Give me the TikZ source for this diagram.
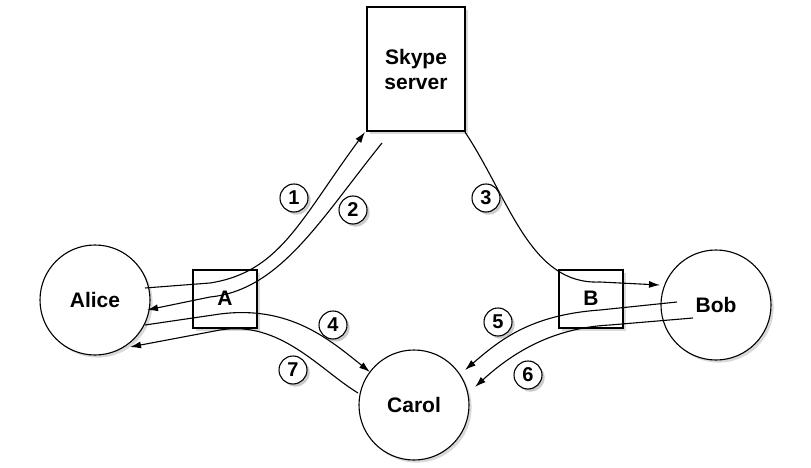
\documentclass[tikz,border=0pt]{standalone}
\usepackage{fontspec}
\setmainfont{Liberation Sans}
\usetikzlibrary{arrows.meta,shadows}
\begin{document}
\begin{tikzpicture}[x=1pt,y=-1pt,
  txt/.style={font=\bfseries\fontsize{21}{25}\selectfont},
  peer/.style={circle,draw,line width=1.1pt,minimum size=110pt,fill=white,drop shadow={opacity=0.3},txt},
  relay/.style={rectangle,draw,line width=1.1pt,minimum width=64pt,minimum height=58pt,fill=white,drop shadow={opacity=0.3},txt},
  num/.style={circle,draw,line width=1.1pt,fill=white,minimum size=28pt,inner sep=0pt,drop shadow={opacity=0.4},font=\bfseries\fontsize{20}{22}\selectfont},
  flow/.style={line width=1.1pt,-{Latex[length=11pt,width=7pt]}}]
\useasboundingbox (0,0) rectangle (811,468);
\node[relay,minimum width=98pt,minimum height=124pt,align=center] (S) at (416,69) {Skype\\server};
\node[peer] (alice) at (95,300) {Alice};
\node[peer] (bob) at (716,305) {Bob};
\node[peer] (carol) at (414,405) {Carol};
\node[relay] (A) at (225,299) {};
\node[relay] (B) at (591,299) {};
\coordinate (a1) at (145,288);
\coordinate (s1) at (365,132);
\coordinate (s2) at (382,143);
\coordinate (a2) at (147,310);
\coordinate (a4) at (145,325);
\coordinate (c4) at (370,372);
\coordinate (c7) at (358,393);
\coordinate (a7) at (130,347);
\coordinate (s3) at (465,132);
\coordinate (b3) at (660,285);
\coordinate (b5) at (677,302);
\coordinate (c5) at (465,370);
\coordinate (b6) at (693,318);
\coordinate (c6) at (475,387);
\draw[flow] (a1) -- (210,283) .. controls (280,272) and (300,220) .. (s1);
\draw[flow] (s2) .. controls (320,220) and (280,290) .. (210,297) -- (a2);
\draw[flow] (a4) -- (220,314) .. controls (290,305) and (330,340) .. (c4);
\draw[flow] (c7) .. controls (320,370) and (280,320) .. (220,330) -- (a7);
\draw[flow] (s3) .. controls (510,200) and (530,285) .. (600,282) -- (b3);
\draw[flow] (b5) -- (600,310) .. controls (530,315) and (500,340) .. (c5);
\draw[flow] (b6) -- (610,325) .. controls (550,328) and (510,355) .. (c6);
\node[txt] (la) at (225,298) {A};
\node[txt] (lb) at (591,298) {B};
\node[num] (n1) at (294,198) {1};
\node[num] (n2) at (353,210) {2};
\node[num] (n3) at (486,198) {3};
\node[num] (n4) at (333,325) {4};
\node[num] (n5) at (498,322) {5};
\node[num] (n6) at (528,375) {6};
\node[num] (n7) at (293,370) {7};
\end{tikzpicture}
\end{document}
